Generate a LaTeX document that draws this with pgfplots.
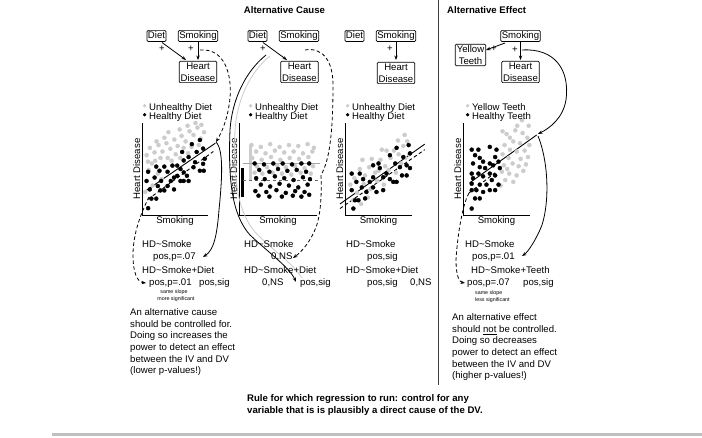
\documentclass[border=0pt]{standalone}
\usepackage{fontspec}
\setmainfont{Liberation Sans}
\usepackage{pgfplots}
\pgfplotsset{compat=1.18}
\usetikzlibrary{arrows.meta}
\definecolor{lgray}{gray}{0.8}
\pgfplotsset{
 myax/.style={scale only axis, height=92pt, xmin=0, xmax=10, ymin=0, ymax=10,
  axis lines=left, axis line style={-, line width=0.9pt}, xtick=\empty, ytick=\empty,
  clip=false, anchor=south west, xlabel={Smoking}, ylabel={Heart Disease},
  xlabel style={at={(axis description cs:0.5,0)}, anchor=north, inner sep=1.5pt},
  ylabel style={at={(axis description cs:0,0.5)}, anchor=south, inner sep=1.5pt},
  legend style={at={(axis description cs:0,1)}, anchor=south west, draw=none, fill=none,
   inner sep=0pt, outer sep=0pt, yshift=1.5pt, row sep=0.3pt,
   nodes={inner sep=0pt, text height=6.9pt, text depth=1.8pt}},
  legend cell align=left,
  legend image code/.code={\fill[##1] (0pt,2.4pt) circle (1.4pt);},
  /tikz/every odd column/.append style={column sep=3pt}},
 gdot/.style={only marks, mark=*, mark size=2pt, color=lgray},
 bdot/.style={only marks, mark=*, mark size=2pt, color=black},
}
\begin{document}
\fontsize{9.6}{11.6}\selectfont
\begin{tikzpicture}
\path[use as bounding box, fill=white] (0pt,0pt) rectangle (702pt,-438pt);

% ---------- Panel 1 ----------
\begin{axis}[myax, at={(142pt,-215pt)}, width=66pt, legend style={xshift=1pt}]
\addplot[gdot] coordinates {(0.7,6.5) (1.2,7.3) (1.9,6.8) (2.5,7.6) (3.1,6.9) (3.7,7.8) (4.3,7.2) (1.5,5.6) (2.8,6.2) (0.9,5.8) (4.9,8.2) (5.4,7.5) (6.0,8.6) (6.6,8.0) (7.2,9.1) (7.8,8.7) (8.4,9.5) (9.0,9.8) (9.4,9.0) (5.1,6.6) (6.3,7.3) (3.4,8.4) (2.2,8.0) (4.0,9.0) (5.7,9.3) (6.9,9.7) (8.1,10.0) (7.5,7.4) (8.9,8.3) (1.0,4.9) (2.0,5.9) (3.9,6.2) (4.5,5.9) (5.8,6.2) (3.0,3.9) (1.6,3.2) (0.5,2.5) (2.4,4.5) (7.0,6.7) (8.6,7.6)};
\addlegendentry{Unhealthy Diet}
\addplot[bdot] coordinates {(0.93,0.74) (1.42,1.78) (2.16,1.78) (1.18,2.78) (0.69,3.70) (0.93,4.70) (1.91,4.07) (2.40,3.15) (2.89,3.70) (2.79,2.67) (3.38,2.67) (3.87,3.15) (4.36,3.70) (4.85,2.78) (4.85,4.07) (5.34,4.26) (5.83,3.70) (6.32,3.70) (7.06,3.70) (6.81,4.26) (6.32,4.63) (5.83,5.00) (5.34,5.37) (4.61,5.37) (3.87,4.70) (3.38,5.26) (2.65,4.81) (2.16,5.26) (6.08,6.85) (6.32,5.93) (7.06,6.30) (7.55,7.70) (8.28,6.85) (8.77,8.15) (9.26,7.22) (9.51,6.11) (9.26,5.56) (8.77,4.81) (8.04,5.74) (9.36,4.81) (7.80,5.19)};
\addlegendentry{Healthy Diet}
\addplot[forget plot, black, line width=0.9pt] coordinates {(0.7,2.7) (11.1,7.8)};
\addplot[forget plot, black, line width=0.9pt, dash pattern=on 3.5pt off 2.5pt] coordinates {(0.9,1.7) (10.8,6.9)};
\end{axis}

% ---------- Panel 2 ----------
\begin{axis}[myax, at={(239pt,-215pt)}, width=78pt, legend style={xshift=10pt}]
\addplot[gdot] coordinates {(1.6,7.6) (2.8,7.4) (4.0,7.7) (5.2,7.4) (6.4,7.6) (7.6,7.5) (8.8,7.7) (9.6,7.3) (2.2,6.9) (3.4,6.7) (4.6,7.0) (5.8,6.8) (7.0,6.9) (8.2,6.7) (9.4,6.9) (1.7,6.2) (2.9,6.0) (4.1,6.3) (5.3,6.0) (6.5,6.2) (7.7,6.1) (8.9,6.3) (2.3,5.3) (3.6,5.2) (4.9,5.4) (6.0,5.2) (7.2,5.3) (8.4,5.1) (9.5,5.3) (2.0,4.6) (3.0,4.5) (4.3,4.6) (5.5,4.5) (6.7,4.4) (7.9,4.6) (9.2,4.5)};
\addlegendentry{Unhealthy Diet}
\addplot[bdot] coordinates {(2.0,5.6) (3.2,5.5) (4.4,5.6) (5.6,5.6) (6.8,5.5) (8.0,5.6) (9.0,5.6) (2.6,4.9) (3.9,4.7) (5.0,5.0) (6.2,4.8) (7.4,4.9) (8.6,4.7) (2.2,4.0) (3.3,3.9) (4.6,4.2) (5.8,4.0) (7.0,3.8) (8.2,4.1) (9.1,3.9) (2.8,3.3) (4.0,3.1) (5.2,3.4) (6.4,3.2) (7.6,3.0) (8.8,3.3) (2.1,2.6) (3.5,2.5) (4.8,2.7) (6.0,2.4) (7.2,2.6) (8.4,2.5) (2.5,2.1) (3.9,2.0) (5.5,2.0) (6.9,2.1) (8.0,2.0) (9.0,2.2)};
\addlegendentry{Healthy Diet}
\addplot[forget plot, lgray, line width=3pt] coordinates {(1.5,3.8) (1.5,7.6)};
\addplot[forget plot, black, line width=3pt] coordinates {(0.5,2.0) (0.5,5.1)};
\addplot[forget plot, black!35, line width=0.8pt] coordinates {(0.5,5.65) (10.4,5.65)};
\addplot[forget plot, black!60, line width=0.8pt, dash pattern=on 3.5pt off 2.5pt] coordinates {(0.5,3.8) (10.4,3.8)};
\end{axis}

% ---------- Panel 3 ----------
\begin{axis}[myax, at={(345pt,-215pt)}, width=67pt, legend style={xshift=1pt}]
\addplot[gdot] coordinates {(1.4,4.0) (2.2,5.0) (3.0,4.3) (3.6,5.2) (4.5,4.6) (5.3,6.0) (6.0,5.3) (6.8,6.2) (7.3,7.0) (8.0,6.6) (8.7,7.5) (9.3,8.0) (9.0,6.2) (1.8,2.4) (2.8,3.4) (3.8,2.8) (4.8,3.7) (5.8,3.3) (6.5,4.9) (7.6,4.6) (8.4,5.6) (9.6,6.6) (0.8,3.3) (2.4,1.2) (1.2,1.6) (3.4,1.9) (5.0,4.8) (6.2,7.0) (7.9,8.1) (8.9,8.7) (4.0,6.1) (5.5,7.1) (2.6,6.0)};
\addlegendentry{Unhealthy Diet}
\addplot[bdot] coordinates {(1.0,4.5) (1.0,2.7) (1.25,0.7) (1.5,1.6) (2.0,1.6) (1.7,3.6) (2.5,3.0) (2.7,3.9) (3.2,2.5) (3.7,3.6) (4.2,4.1) (4.2,3.0) (4.7,2.5) (5.2,5.1) (5.7,4.1) (6.2,4.5) (6.7,3.9) (7.2,3.6) (7.7,3.6) (6.7,6.5) (7.5,5.6) (7.7,7.3) (8.7,6.3) (9.2,5.4) (9.5,7.6) (9.7,6.7) (9.7,5.1) (9.2,4.3) (8.5,4.3) (8.2,5.2) (5.0,5.6) (4.2,5.4) (2.2,4.5) (3.0,1.8) (5.7,2.7)};
\addlegendentry{Healthy Diet}
\addplot[forget plot, black, line width=0.9pt] coordinates {(-0.75,1.2) (11.9,7.7)};
\addplot[forget plot, black, line width=0.9pt, dash pattern=on 3.5pt off 2.5pt] coordinates {(-0.75,0.7) (11.9,7.1)};
\end{axis}

% ---------- Panel 4 ----------
\begin{axis}[myax, at={(463pt,-215pt)}, width=67pt, legend style={xshift=3pt}]
\addplot[gdot] coordinates {(8.8,10.3) (9.8,9.7) (7.8,9.2) (8.9,8.9) (6.5,8.8) (9.6,8.4) (7.5,8.0) (8.5,7.8) (6.2,7.6) (9.9,7.6) (7.0,7.1) (8.0,6.9) (9.2,7.0) (5.9,6.6) (6.8,6.2) (8.6,6.1) (9.7,6.3) (7.4,5.6) (8.3,5.3) (6.1,5.4) (9.4,5.5) (5.8,4.7) (6.9,4.5) (8.0,4.3) (6.3,3.8) (7.5,3.6) (9.0,4.8) (5.6,3.2) (7.0,8.4) (8.1,9.7) (5.9,9.1) (6.6,5.0)};
\addlegendentry{Yellow Teeth}
\addplot[bdot] coordinates {(1.3,7.1) (2.3,7.1) (1.8,6.5) (2.5,6.2) (1.5,5.6) (3.0,5.8) (4.0,7.4) (5.0,7.1) (4.8,6.3) (4.0,5.6) (2.5,5.2) (3.3,5.1) (1.3,4.5) (2.3,4.5) (1.5,4.0) (3.0,4.2) (4.0,4.5) (4.8,4.3) (1.3,3.4) (2.5,3.3) (3.5,3.3) (4.0,2.7) (4.8,2.7) (5.3,3.3) (2.0,2.7) (1.3,2.7) (1.8,1.8) (2.5,1.8) (1.3,0.7) (4.5,5.4) (5.3,5.8) (4.3,3.8) (3.0,2.5) (5.5,5.1)};
\addlegendentry{Healthy Teeth}
\addplot[forget plot, black, line width=0.9pt] coordinates {(1.0,3.5) (11.0,8.7)};
\addplot[forget plot, black, line width=0.9pt, dash pattern=on 3.5pt off 2.5pt] coordinates {(0.9,2.4) (4.8,4.6)};
\end{axis}

\begin{scope}[x=1pt, y=-1pt, every node/.style={inner sep=0pt},
  arr/.style={-{Stealth[length=4.5pt,width=3.4pt]}, line width=0.8pt},
  dsh/.style={dash pattern=on 3.5pt off 2.5pt},
  bx/.style={draw, rounded corners=1.2pt, line width=0.7pt, inner xsep=1pt, inner ysep=1.2pt, text height=7pt, text depth=1.8pt},
  hbx/.style={draw, rounded corners=1.2pt, line width=0.7pt, inner sep=1.5pt, align=center}]
% titles
\node[font=\bfseries] at (284.5,10) {Alternative Cause};
\node[font=\bfseries, anchor=west] at (447,10) {Alternative Effect};
\draw[line width=0.8pt, black!75] (438,0) -- (438,385);

% panel 1 diagram
\node[bx] at (156.5,36) {Diet};
\node[bx] at (198,36) {Smoking};
\node[hbx] at (198,72) {Heart\\Disease};
\draw[arr] (162,42.5) -- (186,60);
\draw[arr] (198,42.5) -- (198,60);
\node at (162,49) {+};
\node at (191,49) {+};
% panel 2 diagram
\node[bx] at (257.5,36) {Diet};
\node[bx] at (299,36) {Smoking};
\node[hbx] at (299.5,72) {Heart\\Disease};
\draw[arr] (263,42.5) -- (287,60);
\node at (263,49) {+};
% panel 3 diagram
\node[bx] at (354.5,36) {Diet};
\node[bx] at (396,36) {Smoking};
\node[hbx] at (396,73) {Heart\\Disease};
\draw[arr] (396,42.5) -- (396,60);
\node at (390,49) {+};
% panel 4 diagram
\node[bx] at (520.5,36) {Smoking};
\node[hbx] at (470.5,55) {Yellow\\Teeth};
\node[hbx] at (520.5,72) {Heart\\Disease};
\draw[arr] (505,43) -- (486,50);
\draw[arr] (520.5,42.5) -- (520.5,60);
\node at (494,49) {+};
\node at (515,50) {+};

% panel 1 curves
\draw[arr, dsh] (200,50) .. controls (225,48) and (232,75) .. (230,98) .. controls (228,118) and (222,132) .. (216,142);
\draw[arr] (216,142) .. controls (224,150) and (222,180) .. (219,210) .. controls (217,235) and (214,250) .. (203,257);
\draw[arr, dsh] (149,197) .. controls (140,215) and (133,235) .. (133,255) .. controls (133,272) and (137,282) .. (146,283);
% panel 2 curves
\draw[lgray, line width=0.8pt] (270,56) .. controls (250,72) and (237,100) .. (235,130) .. controls (233,180) and (238,212) .. (255,232) .. controls (272,250) and (292,262) .. (302,278);
\draw[arr] (266,55) .. controls (245,72) and (232,100) .. (230,130) .. controls (228,180) and (232,215) .. (250,235) .. controls (268,252) and (290,268) .. (296,282);
\draw[arr, dsh] (305,50) .. controls (322,47) and (333,60) .. (333,85) .. controls (333,130) and (330,160) .. (321,175) .. controls (322,200) and (320,220) .. (314,232) .. controls (308,245) and (300,253) .. (293,258);
% panel 4 curves
\draw[arr] (522,50) .. controls (555,48) and (570,70) .. (566,100) .. controls (563,118) and (550,128) .. (538,134);
\draw[arr] (538,136) .. controls (548,160) and (550,200) .. (542,225) .. controls (536,240) and (528,252) .. (522,256);
\draw[arr, dsh] (469,193) .. controls (462,205) and (457,240) .. (456,260) .. controls (456,275) and (459,282) .. (465,283);

% regression texts panel 1
\node[anchor=west] at (142,244) {HD\textasciitilde Smoke};
\node[anchor=west] at (153,257) {pos,p=.07};
\node[anchor=west] at (142,270) {HD\textasciitilde Smoke+Diet};
\node[anchor=west] at (149,283) {pos,p=.01};
\node[anchor=west] at (199,283) {pos,sig};
\node[font=\fontsize{5.3}{6}\selectfont] at (174,292) {same slope};
\node[font=\fontsize{5.3}{6}\selectfont] at (176,299) {more significant};
% panel 2
\node[anchor=west] at (244,244) {HD\textasciitilde Smoke};
\node[anchor=west] at (271,257) {0,NS};
\node[anchor=west] at (244,270) {HD\textasciitilde Smoke+Diet};
\node[anchor=west] at (262,283) {0,NS};
\node[anchor=west] at (300,283) {pos,sig};
% panel 3
\node[anchor=west] at (346,244) {HD\textasciitilde Smoke};
\node[anchor=west] at (367,257) {pos,sig};
\node[anchor=west] at (346,270) {HD\textasciitilde Smoke+Diet};
\node[anchor=west] at (367,283) {pos,sig};
\node[anchor=west] at (410,283) {0,NS};
% panel 4
\node[anchor=west] at (465,244) {HD\textasciitilde Smoke};
\node[anchor=west] at (472,257) {pos,p=.01};
\node[anchor=west] at (471,270) {HD\textasciitilde Smoke+Teeth};
\node[anchor=west] at (467,283) {pos,p=.07};
\node[anchor=west] at (523,283) {pos,sig};
\node[font=\fontsize{5.3}{6}\selectfont, anchor=west] at (475,293) {same slope};
\node[font=\fontsize{5.3}{6}\selectfont, anchor=west] at (475,300) {less significant};

% captions
\node[anchor=north west, align=left] at (130,308.5) {An alternative cause\\should be controlled for.\\Doing so increases the\\power to detect an effect\\between the IV and DV\\(lower p-values!)};
\node[anchor=north west, align=left] at (452,313.5) {An alternative effect\\should \underline{not} be controlled.\\Doing so decreases\\power to detect an effect\\between the IV and DV\\(higher p-values!)};
\node[anchor=north west, align=left, font=\bfseries] at (247,394.5) {Rule for which regression to run: control for any\\variable that is is plausibly a direct cause of the DV.};
\draw[line width=3pt, black!25] (52,434.5) -- (702,434.5);
\end{scope}
\end{tikzpicture}
\end{document}
